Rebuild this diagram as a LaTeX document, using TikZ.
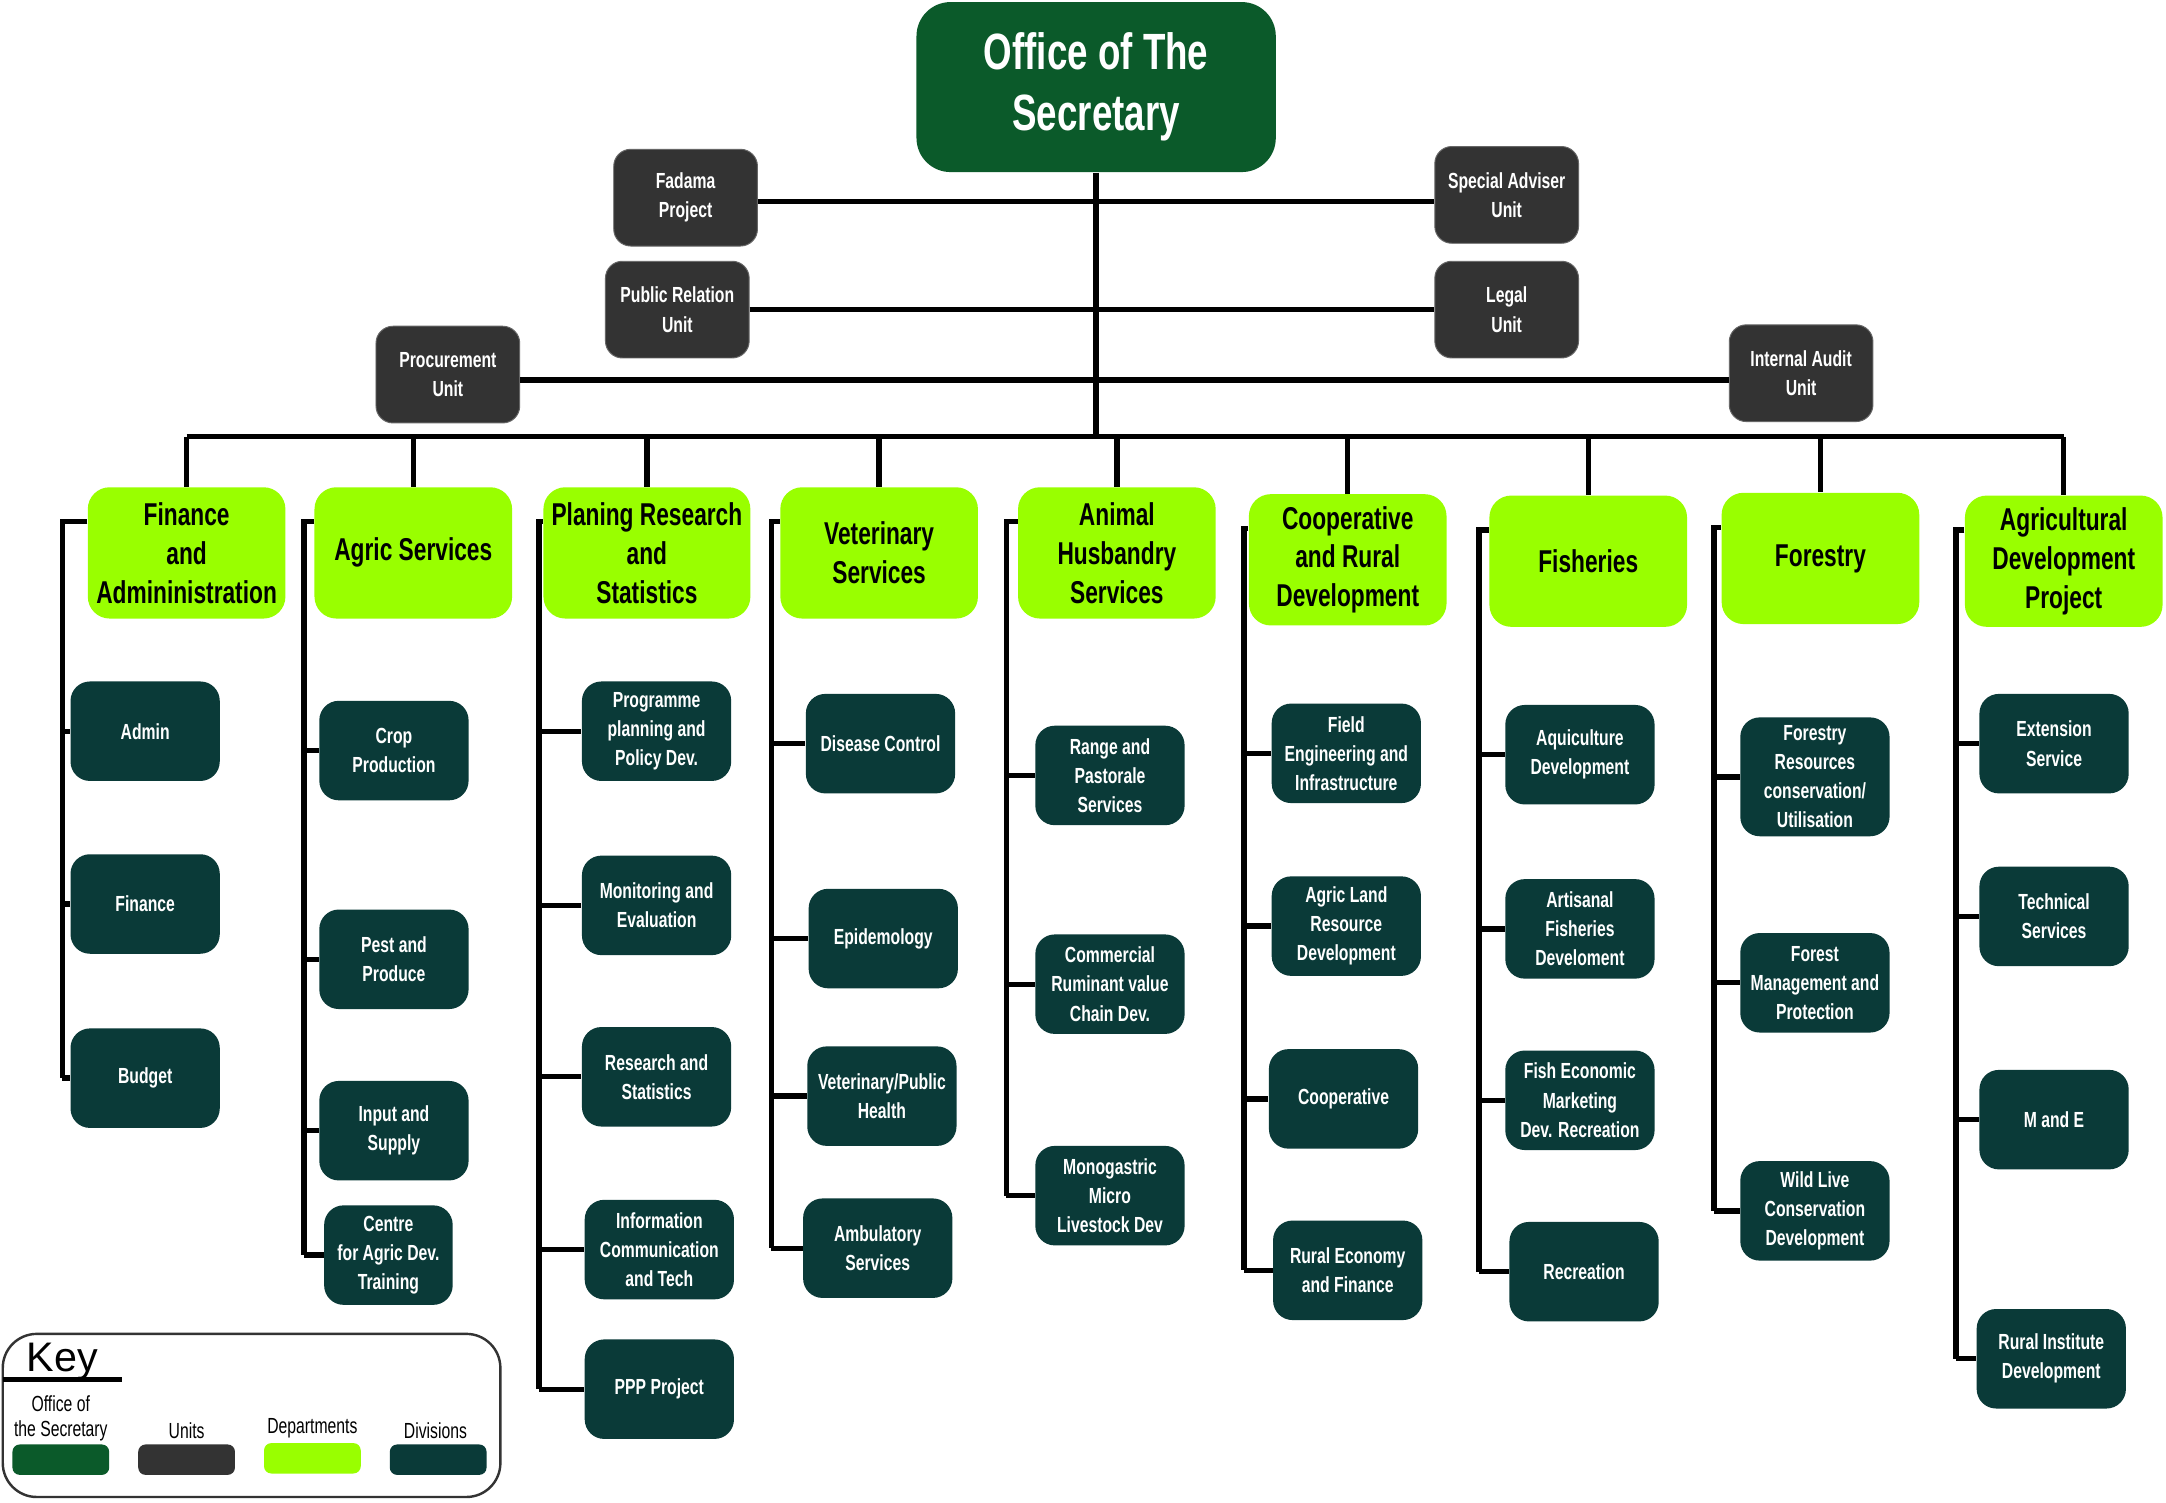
\documentclass[tikz,border=0pt]{standalone}
\usepackage{fontspec}
\setmainfont{Liberation Sans}
\newfontfamily\cond[FakeStretch=0.72]{Liberation Sans}
\usetikzlibrary{positioning}
\definecolor{offcol}{HTML}{0B5A2A}
\definecolor{unitcol}{HTML}{333333}
\definecolor{deptcol}{HTML}{99FF00}
\definecolor{divcol}{HTML}{0A3A38}
\begin{document}
\begin{tikzpicture}[x=0.02cm,y=-0.02cm,
      office/.style={rectangle, rounded corners=14pt, fill=offcol, text=white,
                     minimum width=5.2cm, minimum height=2.46cm, align=center,
                     font=\cond\bfseries\fontsize{21}{25}\selectfont},
      unit/.style={rectangle, rounded corners=7pt, fill=unitcol, draw=black!60, text=white,
                   minimum width=2.08cm, minimum height=1.4cm, align=center,
                   font=\cond\bfseries\fontsize{9}{12}\selectfont},
      dept/.style={rectangle, rounded corners=9pt, fill=deptcol, text=black,
                   minimum width=2.86cm, minimum height=1.9cm, align=center,
                   font=\cond\bfseries\fontsize{13}{16}\selectfont},
      div/.style={rectangle, rounded corners=8pt, fill=divcol, text=white,
                  minimum width=2.16cm, minimum height=1.44cm, align=center,
                  font=\cond\bfseries\fontsize{9}{12}\selectfont},
      swatch/.style={rectangle, rounded corners=3pt, minimum width=1.4cm, minimum height=0.44cm},
      conn/.style={line width=2.2pt, black}
    ]
    \useasboundingbox (0,0) rectangle (1567,1087);
    \fill[white] (0,0) rectangle (1567,1087);

    % office and units
    \node[office] (sec) at (793,63) {Office of The\\Secretary};
    \node[unit] (fadama) at (496,143) {Fadama\\Project};
    \node[unit] (special) at (1090,141) {Special Adviser\\Unit};
    \node[unit] (pr) at (490,224) {Public Relation\\Unit};
    \node[unit] (legal) at (1090,224) {Legal\\Unit};
    \node[unit] (proc) at (324,271) {Procurement\\Unit};
    \node[unit] (audit) at (1303,270) {Internal Audit\\Unit};
    \coordinate (bus) at (793,316);

    \draw[conn] (sec.south) -- (bus);
    \draw[conn] (fadama.east |- 0,146) -- (special.west |- 0,146);
    \draw[conn] (pr.east) -- (legal.west);
    \draw[conn] (proc.east |- 0,275) -- (audit.west |- 0,275);

    % departments
    \node[dept] (fin) at (135,400) {Finance\\and\\Admininistration};
    \node[dept] (agr) at (299,400) {Agric Services};
    \node[dept] (plan) at (468,400) {Planing Research\\and\\Statistics};
    \node[dept] (vet) at (636,400) {Veterinary\\Services};
    \node[dept] (ani) at (808,400) {Animal\\Husbandry\\Services};
    \node[dept] (coop) at (975,405) {Cooperative\\and Rural\\Development};
    \node[dept] (fish) at (1149,406) {Fisheries};
    \node[dept] (forest) at (1317,404) {Forestry};
    \node[dept] (adp) at (1493,406) {Agricultural\\Development\\Project};

    \draw[conn] (fin.north |- bus) -- (adp.north |- bus);
    \foreach \d in {fin,agr,plan,vet,ani,coop,fish,forest,adp}
      \draw[conn] (\d.north |- bus) -- (\d.north);

    % divisions
    \node[div] (admin) at (105,529) {Admin};
    \node[div] (fina) at (105,654) {Finance};
    \node[div] (budget) at (105,780) {Budget};

    \node[div] (crop) at (285,543) {Crop\\Production};
    \node[div] (pest) at (285,694) {Pest and\\Produce};
    \node[div] (input) at (285,818) {Input and\\Supply};
    \node[div, minimum width=1.86cm] (centre) at (281,908) {Centre\\for Agric Dev.\\Training};

    \node[div] (prog) at (475,529) {Programme\\planning and\\Policy Dev.};
    \node[div] (mon) at (475,655) {Monitoring and\\Evaluation};
    \node[div] (res) at (475,779) {Research and\\Statistics};
    \node[div] (ict) at (477,904) {Information\\Communication\\and Tech};
    \node[div] (ppp) at (477,1005) {PPP Project};

    \node[div] (dis) at (637,538) {Disease Control};
    \node[div] (epi) at (639,679) {Epidemology};
    \node[div] (pub) at (638,793) {Veterinary/Public\\Health};
    \node[div] (amb) at (635,903) {Ambulatory\\Services};

    \node[div] (range) at (803,561) {Range and\\Pastorale\\Services};
    \node[div] (rum) at (803,712) {Commercial\\Ruminant value\\Chain Dev.};
    \node[div] (mono) at (803,865) {Monogastric\\Micro\\Livestock Dev};

    \node[div] (field) at (974,545) {Field\\Engineering and\\Infrastructure};
    \node[div] (land) at (974,670) {Agric Land\\Resource\\Development};
    \node[div] (coopd) at (972,795) {Cooperative};
    \node[div] (rural) at (975,919) {Rural Economy\\and Finance};

    \node[div] (aqui) at (1143,546) {Aquiculture\\Development};
    \node[div] (arti) at (1143,672) {Artisanal\\Fisheries\\Develoment};
    \node[div] (fecon) at (1143,796) {Fish Economic\\Marketing\\Dev. Recreation};
    \node[div] (recr) at (1146,920) {Recreation};

    \node[div] (fres) at (1313,562) {Forestry\\Resources\\conservation/\\Utilisation};
    \node[div] (fman) at (1313,711) {Forest\\Management and\\Protection};
    \node[div] (wild) at (1313,876) {Wild Live\\Conservation\\Development};

    \node[div] (ext) at (1486,538) {Extension\\Service};
    \node[div] (tech) at (1486,663) {Technical\\Services};
    \node[div] (mande) at (1486,810) {M and E};
    \node[div] (rid) at (1484,983) {Rural Institute\\Development};

    % spines
    \foreach \d/\sx/\last/\kids in {fin/45/budget/{admin,fina,budget},
        agr/220/centre/{crop,pest,input,centre},
        plan/390/ppp/{prog,mon,res,ict,ppp},
        vet/558/amb/{dis,epi,pub,amb},
        ani/728/mono/{range,rum,mono},
        coop/900/rural/{field,land,coopd,rural},
        fish/1070/recr/{aqui,arti,fecon,recr},
        forest/1240/wild/{fres,fman,wild},
        adp/1415/rid/{ext,tech,mande,rid}} {
      \coordinate (top) at ([yshift=0.45cm]\d.west);
      \draw[conn] (top) -- (\sx,0 |- top) -- (\sx,0 |- \last.west);
      \foreach \c in \kids
        \draw[conn] (\sx,0 |- \c.west) -- (\c.west);
    }

    % key
    \draw[black!80, line width=1pt, rounded corners=14pt] (2,965) rectangle (362,1083);
    \node[font=\fontsize{17}{19}\selectfont] (key) at (45,985) {Key};
    \draw[line width=2pt] (2,998) -- (88,998);
    \node[font=\cond\fontsize{9}{10}\selectfont, align=center] (kof) at (44,1026) {Office of\\the Secretary};
    \node[font=\cond\fontsize{9}{10}\selectfont] (kun) at (135,1035) {Units};
    \node[font=\cond\fontsize{9}{10}\selectfont] (kde) at (226,1033) {Departments};
    \node[font=\cond\fontsize{9}{10}\selectfont] (kdi) at (315,1035) {Divisions};
    \node[swatch, fill=offcol] (sof) at (44,1056) {};
    \node[swatch, fill=unitcol] (sun) at (135,1056) {};
    \node[swatch, fill=deptcol] (sde) at (226,1055) {};
    \node[swatch, fill=divcol] (sdi) at (317,1056) {};
  \end{tikzpicture}
\end{document}
